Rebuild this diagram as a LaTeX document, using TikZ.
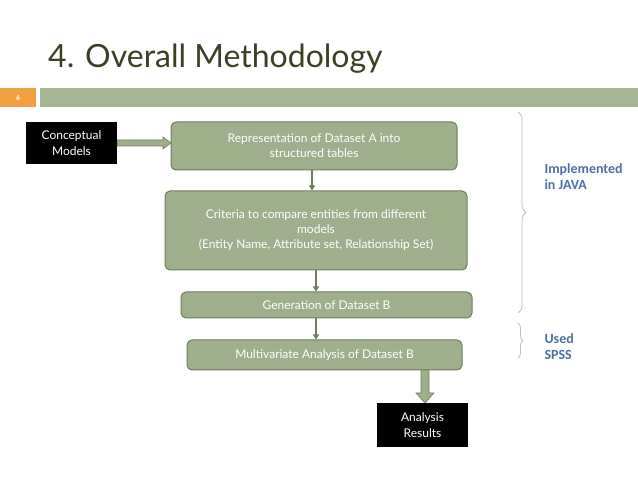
\documentclass[tikz,border=0pt]{standalone}
\usepackage{fontspec}
\setmainfont{Lato}
\newfontfamily\carlitofont{Carlito}
\usetikzlibrary{decorations.pathreplacing,arrows.meta}
\definecolor{boxg}{HTML}{A0AF8B}
\definecolor{boxd}{HTML}{6E7E5A}
\definecolor{barg}{HTML}{A6B593}
\definecolor{ttl}{HTML}{3D3F24}
\definecolor{blu}{HTML}{4F6FA8}
\definecolor{org}{HTML}{F0A040}
\begin{document}
\begin{tikzpicture}[x=1pt,y=-1pt,
  stepbox/.style={draw=boxd,line width=1pt,fill=boxg,rounded corners=5pt,text=white,font=\fontsize{12}{15}\selectfont,align=center,inner sep=0pt},
  blkbox/.style={fill=black,text=white,font=\fontsize{12}{16}\selectfont,align=center,inner sep=0pt},
  thinarr/.style={draw=boxd,line width=1.5pt,-{Triangle[length=5pt,width=6pt]}},
  fatarr/.style={draw=boxd,fill=boxg,line width=0.6pt},
  bracestyle/.style={draw=black!25,line width=0.8pt,decorate,decoration={brace,amplitude=8pt}},
  sidetext/.style={text=blu,font=\carlitofont\bfseries\fontsize{14}{16}\selectfont,align=left,anchor=west}]
\useasboundingbox (0,0) rectangle (638,478);
\node[anchor=base west,text=ttl,font=\fontsize{32}{36}\selectfont,inner sep=0] (title) at (48,68) {4. Overall Methodology};
\node[fill=org,minimum width=36pt,minimum height=19pt,anchor=north west,inner sep=0] (num) at (0,88) {};
\node[text=white,font=\bfseries\fontsize{7}{8}\selectfont] (numtext) at (num.center) {6};
\node[fill=barg,minimum width=598pt,minimum height=19pt,anchor=north west,inner sep=0] (bar) at (40,88) {};
\node[blkbox,minimum width=91pt,minimum height=42pt] (cm) at (71.5,143) {Conceptual\\Models};
\node[stepbox,minimum width=286pt,minimum height=48pt] (b1) at (314,146) {Representation of Dataset A into\\structured tables};
\node[stepbox,minimum width=302pt,minimum height=79pt] (b2) at (316,230.5) {Criteria to compare entities from different\\models\\(Entity Name, Attribute set, Relationship Set)};
\node[stepbox,minimum width=291pt,minimum height=26pt] (b3) at (326.5,305) {Generation of Dataset B};
\node[stepbox,minimum width=275pt,minimum height=30pt] (b4) at (324.5,355) {Multivariate Analysis of Dataset B};
\node[blkbox,minimum width=91pt,minimum height=44pt] (ar) at (422.5,425) {Analysis\\Results};
\draw[fatarr] (cm.east|-0,140) -- (163,140) -- (163,137) -- (171,143) -- (163,149) -- (163,146) -- (cm.east|-0,146) -- cycle;
\draw[thinarr] (b1.south-|312,0) -- (b2.north-|312,0);
\draw[thinarr] (b2.south-|316,0) -- (b3.north-|316,0);
\draw[thinarr] (b3.south-|316,0) -- (b4.north-|316,0);
\draw[fatarr] (421,370) -- (429,370) -- (429,393) -- (434,393) -- (425,403) -- (416,393) -- (421,393) -- cycle;
\coordinate (t1) at (518,112); \coordinate (e1) at (518,313);
\draw[bracestyle] (t1) -- (e1);
\node[sidetext] (j) at (541,177) {Implemented\\in JAVA};
\coordinate (t2) at (518,323); \coordinate (e2) at (518,358);
\draw[bracestyle,decoration={amplitude=5pt}] (t2) -- (e2);
\node[sidetext] (s) at (541,347) {Used\\SPSS};
\end{tikzpicture}
\end{document}
